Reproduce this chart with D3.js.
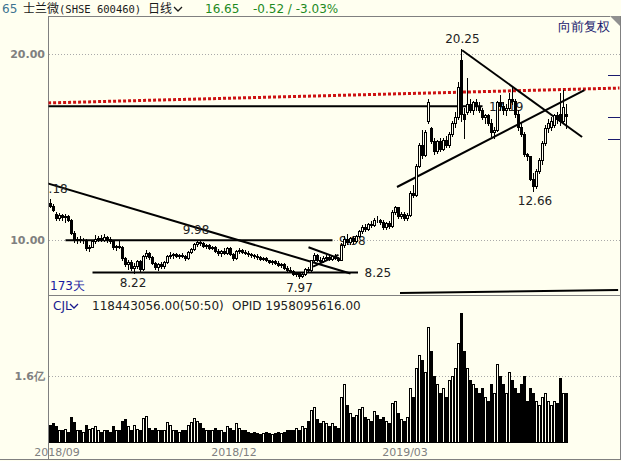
<!DOCTYPE html>
<html><head><meta charset="utf-8">
<script src="https://cdn.jsdelivr.net/npm/d3@7"></script>
<style>
body{margin:0;background:#FFFFF0}
svg{display:block}
text{font-family:"DejaVu Sans",sans-serif}
</style>
</head><body><svg id="c" width="621" height="461"></svg>
<script>
// ---------- DATA ----------
const opens=[12.00,11.85,11.40,11.20,11.35,11.25,11.30,11.10,10.40,10.00,
10.05,9.98,10.00,9.55,9.65,9.95,10.05,10.10,10.00,10.15,
10.05,9.95,9.60,9.70,9.65,9.05,8.70,8.80,8.50,8.60,
8.85,8.45,9.15,9.30,9.10,8.75,8.55,8.70,8.60,8.80,
9.15,9.20,9.25,9.15,9.20,9.15,9.05,9.35,9.50,9.80,
9.90,9.85,9.70,9.75,9.55,9.65,9.40,9.30,9.40,9.30,
9.55,9.25,9.05,9.40,9.45,9.35,9.30,9.25,9.20,9.15,
9.10,9.00,9.05,8.90,8.80,8.85,8.75,8.65,8.70,8.50,
8.40,8.35,8.15,8.25,8.05,8.15,8.45,8.40,8.90,9.20,
8.95,8.85,9.05,9.10,9.00,9.15,9.05,8.95,9.75,10.05,
9.90,10.10,9.95,10.20,10.50,10.70,10.60,10.85,10.80,11.10,
11.05,10.95,10.70,10.90,10.75,11.50,11.75,11.30,11.40,11.20,
11.35,12.55,12.40,14.00,15.10,14.55,16.40,16.00,15.30,14.80,
15.30,14.90,15.40,15.10,15.70,16.30,16.60,19.70,16.80,16.90,
17.30,17.00,17.40,17.20,17.00,16.60,16.70,16.30,15.80,15.90,
17.40,17.20,17.00,17.10,17.60,17.50,16.80,16.10,15.70,14.60,
14.50,13.30,12.90,13.70,14.30,15.20,16.00,16.10,16.20,16.70,
16.80,16.40,16.80];
const highs=[12.18,11.95,11.50,11.45,11.40,11.40,11.35,11.15,10.50,10.15,
10.20,10.10,10.05,9.75,10.00,10.25,10.20,10.25,10.30,10.20,
10.15,10.00,9.75,9.95,9.70,9.10,8.90,8.90,8.75,8.95,
8.90,9.20,9.45,9.35,9.15,8.80,8.75,8.80,8.85,9.20,
9.35,9.30,9.30,9.25,9.30,9.20,9.40,9.55,9.85,9.95,
9.98,9.90,9.80,9.80,9.70,9.70,9.50,9.45,9.55,9.60,
9.60,9.30,9.45,9.55,9.50,9.45,9.40,9.30,9.25,9.25,
9.15,9.10,9.10,8.95,8.90,8.90,8.85,8.75,8.75,8.60,
8.55,8.40,8.30,8.30,8.20,8.50,8.55,8.95,9.30,9.25,
9.10,9.15,9.20,9.25,9.20,9.25,9.10,9.85,10.20,10.30,
10.15,10.20,10.25,10.55,10.80,10.85,10.90,11.00,11.20,11.30,
11.15,11.05,10.95,11.00,11.60,11.85,11.80,11.50,11.50,11.45,
12.65,12.95,14.10,15.20,15.90,15.90,17.60,16.10,15.50,15.40,
15.50,15.50,15.60,15.80,16.40,16.90,18.50,20.25,17.10,18.70,
17.60,17.50,17.60,17.40,17.10,16.80,16.75,16.50,16.10,17.50,
17.80,17.40,17.30,17.90,18.20,17.60,17.00,16.30,15.80,14.70,
14.50,13.60,13.80,14.40,15.30,16.20,16.50,16.60,16.80,16.90,
17.90,18.06,17.30];
const lows=[11.78,11.55,11.10,11.05,11.10,10.95,11.00,10.30,9.90,9.85,
9.90,9.85,9.45,9.40,9.60,9.85,9.95,9.95,9.95,9.90,
9.85,9.50,9.45,9.55,8.95,8.60,8.45,8.40,8.22,8.50,
8.35,8.40,9.05,9.00,8.70,8.45,8.40,8.50,8.50,8.75,
9.05,9.05,9.10,9.05,9.10,8.95,9.00,9.30,9.45,9.70,
9.75,9.65,9.55,9.50,9.50,9.35,9.20,9.15,9.25,9.25,
9.20,8.95,9.00,9.30,9.30,9.25,9.15,9.10,9.05,9.00,
8.95,8.90,8.85,8.75,8.70,8.70,8.60,8.55,8.45,8.35,
8.30,8.10,8.05,7.97,8.00,8.10,8.35,8.35,8.80,8.85,
8.75,8.80,8.95,8.95,8.90,9.00,8.85,8.90,9.65,9.80,
9.80,9.85,9.90,10.15,10.40,10.50,10.55,10.70,10.75,10.95,
10.85,10.60,10.60,10.65,10.70,11.40,11.20,11.20,11.10,11.05,
11.30,12.30,12.35,13.90,14.40,14.50,16.30,15.20,14.60,14.70,
14.80,14.85,15.00,15.00,15.60,16.10,16.50,16.40,15.50,16.80,
16.90,16.80,17.00,16.90,16.50,16.30,16.20,15.60,15.50,15.85,
17.00,16.80,16.70,17.00,17.30,16.60,15.90,15.60,14.50,14.30,
13.20,12.66,12.80,13.60,14.10,15.10,15.80,15.90,16.10,16.30,
16.20,16.30,16.00];
const closes=[11.85,11.60,11.20,11.35,11.25,11.30,11.10,10.40,10.00,10.05,
9.98,10.02,9.55,9.65,9.95,10.05,10.10,10.00,10.15,10.05,
9.95,9.60,9.70,9.65,9.05,8.70,8.80,8.50,8.60,8.85,
8.45,9.15,9.30,9.10,8.75,8.55,8.70,8.60,8.80,9.15,
9.20,9.25,9.15,9.20,9.15,9.05,9.35,9.50,9.80,9.90,
9.85,9.70,9.75,9.55,9.65,9.40,9.30,9.40,9.30,9.55,
9.25,9.05,9.40,9.45,9.35,9.30,9.25,9.20,9.15,9.10,
9.00,9.05,8.90,8.80,8.85,8.75,8.65,8.70,8.50,8.40,
8.35,8.15,8.25,8.05,8.15,8.45,8.40,8.90,9.20,8.95,
8.85,9.05,9.10,9.00,9.15,9.05,8.95,9.75,10.05,9.90,
10.10,9.95,10.20,10.50,10.70,10.60,10.85,10.80,11.10,11.05,
10.95,10.70,10.90,10.75,11.50,11.75,11.30,11.40,11.20,11.35,
12.55,12.40,14.00,15.10,14.55,15.80,17.40,15.30,14.80,15.30,
14.90,15.40,15.10,15.70,16.30,16.60,18.20,16.80,16.50,17.30,
17.00,17.40,17.20,17.00,16.60,16.70,16.30,15.80,15.90,17.40,
17.20,17.00,17.10,17.60,17.50,16.80,16.10,15.70,14.60,14.50,
13.30,12.90,13.70,14.30,15.20,16.00,16.30,16.40,16.70,16.50,
16.40,17.17,16.65];
const volumes=[0.42,0.45,0.40,0.30,0.28,0.32,0.25,0.60,0.48,0.30,
0.28,0.25,0.42,0.32,0.35,0.40,0.30,0.25,0.30,0.28,
0.25,0.38,0.30,0.28,0.50,0.55,0.38,0.30,0.42,0.32,
0.30,0.58,0.62,0.35,0.30,0.35,0.30,0.28,0.30,0.48,
0.42,0.30,0.28,0.25,0.30,0.28,0.42,0.48,0.58,0.52,
0.45,0.35,0.30,0.30,0.28,0.35,0.30,0.28,0.25,0.40,
0.35,0.30,0.45,0.35,0.30,0.28,0.25,0.22,0.25,0.22,
0.20,0.22,0.25,0.22,0.20,0.22,0.25,0.22,0.25,0.30,
0.28,0.30,0.35,0.30,0.40,0.35,0.50,0.78,0.85,0.55,
0.45,0.50,0.45,0.40,0.45,0.40,0.35,1.10,1.40,0.90,
0.70,0.60,0.65,0.80,0.85,0.60,0.55,0.50,0.75,0.65,
0.55,0.60,0.50,0.45,0.95,1.00,0.70,0.55,0.50,0.60,
1.30,1.10,1.80,2.10,2.00,1.70,2.80,2.20,1.60,1.40,
1.20,1.30,1.10,1.50,1.60,1.80,2.40,3.13,2.20,1.80,
1.50,1.40,1.30,1.20,1.30,1.10,1.00,1.40,1.20,1.90,
1.60,1.40,1.20,1.70,1.50,1.30,1.20,1.40,1.60,1.00,
1.30,1.20,1.00,0.90,1.10,1.20,1.00,0.90,1.00,0.95,
1.55,1.20,1.1844].map(v=>v*1e8);
const tickLabels=["2018/09","2018/12","2019/03"];
const tickIndex=[2,61,118];
const priceTicks=[10,20];
const volTicks=[1.6e8];
// drawn lines in data coordinates [i1,p1,i2,p2]
const trendLines=[[-1,13.05,100,8.2],[5,9.98,94,9.98],[14,8.25,102.5,8.25],[-1,17.19,144,17.19],
 [86,9.61,97,8.96],[87.5,8.57,96,9.2],[115.5,12.85,178,18.06],[137.2,20.2,177.2,15.54],[116.5,7.15,189.2,7.31]];
const maLine=[-0.8,17.37,189.8,18.17];
const lineLabels=[["9.98",94,9.98],["8.25",102.5,8.25],["17.19",144,17.19]];
const extremeLabels=[["12.18",0,12.18,-1],["9.98",48.5,9.98,-1],["8.22",27.5,8.22,1],["7.97",83,7.97,1],["20.25",137.3,20.25,-1],["12.66",161.5,12.66,1]];

// ---------- CHART ----------
const svg=d3.select("#c");
svg.append("rect").attr("width",621).attr("height",461).attr("fill","#FFFFF0");
const N=closes.length;
const x=d3.scaleLinear().domain([0,N-1]).range([49,49+3*(N-1)]);
const y=d3.scaleLinear().domain([10,20]).range([240,54]);
const v=d3.scaleLinear().domain([0,1.6e8]).range([442,376]);
const grey="#808080";

const defs=svg.append("defs");
defs.append("clipPath").attr("id","pc").append("rect").attr("x",48.5).attr("y",17).attr("width",571).attr("height",278);
defs.append("clipPath").attr("id","vc").append("rect").attr("x",48.5).attr("y",296).attr("width",571).attr("height",147);

// frame
svg.append("line").attr("x1",48).attr("x2",610).attr("y1",16.5).attr("y2",16.5).attr("stroke",grey);
svg.append("path").attr("d","M610,16 L620,16 L620,26 Z").attr("fill","#909090");
svg.append("line").attr("x1",48.5).attr("x2",48.5).attr("y1",16).attr("y2",459).attr("stroke",grey);
svg.append("line").attr("x1",620.5).attr("x2",620.5).attr("y1",16).attr("y2",459).attr("stroke",grey);
svg.append("line").attr("x1",0).attr("x2",621).attr("y1",459.5).attr("y2",459.5).attr("stroke",grey);
svg.append("line").attr("x1",48).attr("x2",621).attr("y1",295.5).attr("y2",295.5).attr("stroke",grey);

// header
const hd=svg.append("text").attr("x",2).attr("y",13).attr("font-size",12);
hd.append("tspan").attr("fill","#3d7390").text("65");
hd.append("tspan").attr("x",23).attr("fill","#1a1a1a").attr("font-family","'Noto Sans CJK SC'").text("士兰微");
hd.append("tspan").attr("fill","#1a1a1a").attr("font-family","'DejaVu Sans Mono'").attr("font-size",10.5).text("(SHSE 600460)");
hd.append("tspan").attr("x",148).attr("fill","#1a1a1a").attr("font-family","'Noto Sans CJK SC'").text("日线");
svg.append("path").attr("d","M174,7 L178,11 L182,7").attr("fill","none").attr("stroke","#1a1a1a").attr("stroke-width",1.3);
svg.append("text").attr("x",205).attr("y",13).attr("font-size",12).attr("fill","#1e8a1e").text("16.65");
svg.append("text").attr("x",253).attr("y",13).attr("font-size",12).attr("fill","#1e8a1e").text("-0.52 / -3.03%");
svg.append("text").attr("x",610).attr("y",31).attr("text-anchor","end").attr("font-size",12.5).attr("fill","#1a1a6e").attr("font-family","'Noto Sans CJK SC'").text("向前复权");

// price axis + grid
const ya=svg.append("g").attr("transform","translate(48,0)")
 .call(d3.axisLeft(y).tickValues(priceTicks).tickSize(0).tickPadding(3).tickFormat(d3.format(".2f")));
ya.select(".domain").remove();
ya.selectAll("text").attr("font-size",11).attr("fill",grey).attr("font-weight","bold").attr("font-family","'DejaVu Sans'");
svg.append("g").selectAll("line").data(priceTicks).join("line")
 .attr("x1",49).attr("x2",620).attr("y1",d=>Math.round(y(d))+0.5).attr("y2",d=>Math.round(y(d))+0.5)
 .attr("stroke","#aaa").attr("stroke-dasharray","1,2");

// volume axis + grid
const va=svg.append("g").attr("transform","translate(48,0)")
 .call(d3.axisLeft(v).tickValues(volTicks).tickSize(0).tickPadding(3).tickFormat(d=>(d/1e8)+"亿"));
va.select(".domain").remove();
va.selectAll("text").attr("font-size",11).attr("fill",grey).attr("font-weight","bold").attr("font-family","'DejaVu Sans','Noto Sans CJK SC'");
svg.append("g").selectAll("line").data(volTicks).join("line")
 .attr("x1",49).attr("x2",620).attr("y1",d=>Math.round(v(d))+0.5).attr("y2",d=>Math.round(v(d))+0.5)
 .attr("stroke","#aaa").attr("stroke-dasharray","1,2");

// x axis
const xa=svg.append("g").attr("transform","translate(1.5,446)")
 .call(d3.axisBottom(x).tickValues(tickIndex).tickSize(0).tickPadding(0).tickFormat((d,i)=>tickLabels[i]));
xa.select(".domain").remove();
xa.selectAll("text").attr("font-size",11).attr("fill",grey).attr("dy","0.9em").attr("font-family","'DejaVu Sans'");

// price panel
const pg=svg.append("g").attr("clip-path","url(#pc)");
pg.append("line").attr("x1",x(maLine[0])+1.5).attr("y1",y(maLine[1])).attr("x2",x(maLine[2])+1.5).attr("y2",y(maLine[3]))
 .attr("stroke","#cc1111").attr("stroke-width",3).attr("stroke-dasharray","3,2");
pg.append("g").selectAll("line").data(trendLines).join("line")
 .attr("x1",d=>x(d[0])+1.5).attr("y1",d=>y(d[1])).attr("x2",d=>x(d[2])+1.5).attr("y2",d=>y(d[3]))
 .attr("stroke","#000").attr("stroke-width",2);
pg.append("g").selectAll("text").data(lineLabels).join("text")
 .attr("x",d=>x(d[1])+8).attr("y",d=>y(d[2])).attr("dy","0.38em").attr("font-size",12).attr("fill","#222").text(d=>d[0]);
pg.append("g").selectAll("text").data(extremeLabels).join("text")
 .attr("x",d=>x(d[1])+1.5).attr("y",d=>y(d[2])+(d[3]<0?-6:14)).attr("text-anchor","middle")
 .attr("font-size",12).attr("fill","#222").text(d=>d[0]);

const idx=d3.range(N);
const cg=pg.append("g");
cg.selectAll("line").data(idx).join("line")
 .attr("x1",i=>x(i)+1.5).attr("x2",i=>x(i)+1.5)
 .attr("y1",i=>Math.round(y(highs[i]))).attr("y2",i=>Math.round(y(lows[i]))+1)
 .attr("stroke","#000").attr("stroke-width",1);
cg.selectAll("rect").data(idx).join("rect")
 .attr("x",i=>x(i)+0.5).attr("width",2)
 .attr("y",i=>Math.round(y(Math.max(opens[i],closes[i])))+0.5)
 .attr("height",i=>Math.max(0,Math.round(y(Math.min(opens[i],closes[i])))-Math.round(y(Math.max(opens[i],closes[i])))))
 .attr("fill",i=>closes[i]>=opens[i]?"#FFFFF0":"#000").attr("stroke","#000").attr("stroke-width",1);

svg.append("text").attr("x",50).attr("y",290).attr("font-size",12).attr("fill","#1a1aa0")
 .attr("font-family","'DejaVu Sans','Noto Sans CJK SC'").text("173天");
// right ticks
svg.append("g").selectAll("line").data([18.85,16.62,15.45]).join("line")
 .attr("x1",608).attr("x2",620).attr("y1",d=>Math.round(y(d))+0.5).attr("y2",d=>Math.round(y(d))+0.5)
 .attr("stroke","#1a1a6e").attr("stroke-width",1);

// volume panel
const vl=svg.append("text").attr("x",53).attr("y",310).attr("font-size",12);
vl.append("tspan").attr("fill","#1a1a8e").text("CJL");
svg.append("path").attr("d","M70,304 L74,308 L78,304").attr("fill","none").attr("stroke","#1a1a8e").attr("stroke-width",1.3);
svg.append("text").attr("x",92).attr("y",310).attr("font-size",12).attr("fill","#222").text("118443056.00(50:50)");
svg.append("text").attr("x",232).attr("y",310).attr("font-size",12).attr("fill","#222").text("OPID 1958095616.00");
const vg=svg.append("g").attr("clip-path","url(#vc)");
vg.selectAll("rect").data(idx).join("rect")
 .attr("x",i=>x(i)+0.5).attr("width",2)
 .attr("y",i=>Math.round(v(volumes[i]))+0.5)
 .attr("height",i=>Math.max(0,442-Math.round(v(volumes[i]))))
 .attr("fill",i=>closes[i]>=opens[i]?"#FFFFF0":"#000").attr("stroke","#000").attr("stroke-width",1);
</script></body></html>
